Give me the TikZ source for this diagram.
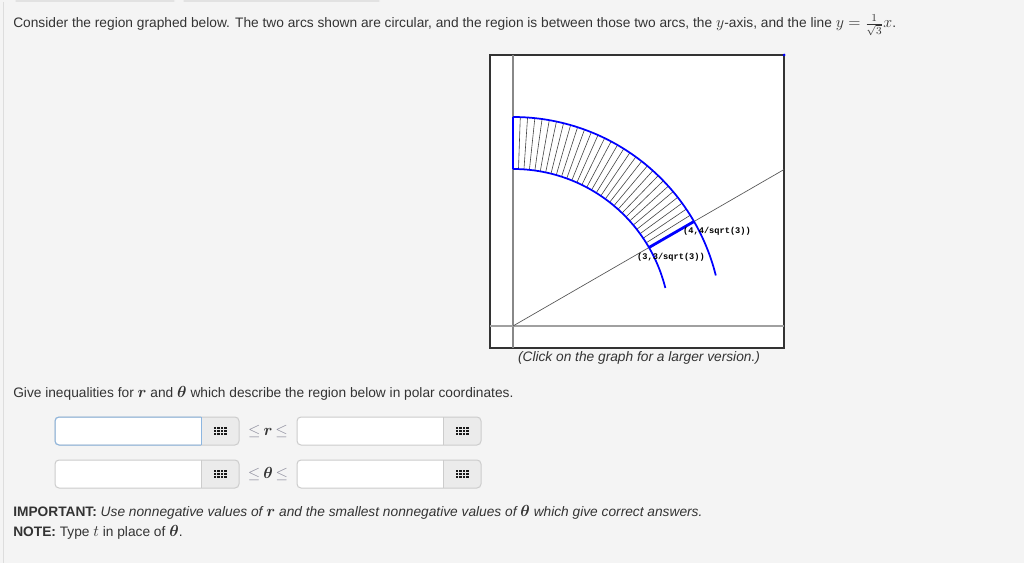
\documentclass[tikz,border=0pt]{standalone}
\usepackage{amsmath}
\usepackage{fontspec}
\setmainfont{Liberation Sans}
\newfontfamily\monof{Liberation Mono}
\newcommand\mth[1]{{\fontsize{11.8}{12}\selectfont$#1$}}
\definecolor{bg}{HTML}{F4F4F4}
\definecolor{txtc}{HTML}{333333}
\definecolor{tabc}{HTML}{E2E2E2}
\definecolor{edgec}{HTML}{DDDDDD}
\definecolor{gboxc}{HTML}{333333}
\definecolor{axisc}{HTML}{888888}
\definecolor{xaxisc}{HTML}{A0A0A0}
\definecolor{linec}{HTML}{555555}
\definecolor{hatchc}{HTML}{444444}
\definecolor{arcblue}{HTML}{0000FF}
\definecolor{boxc}{HTML}{CCCCCC}
\definecolor{btnc}{HTML}{EBEBEB}
\definecolor{focusc}{HTML}{8DB6E0}
\definecolor{iconc}{HTML}{1A1A1A}
\definecolor{lec}{HTML}{8A8A9A}
\tikzset{
  txt/.style={inner sep=0pt, text=txtc, font=\fontsize{10.3}{12}\selectfont},
  gbox/.style={draw=gboxc, line width=0.8pt},
  yaxis/.style={draw=axisc, line width=0.8pt},
  xaxis/.style={draw=xaxisc, line width=1.4pt},
  sline/.style={draw=linec, line width=0.5pt},
  hatch/.style={draw=hatchc, line width=0.45pt},
  bluearc/.style={draw=arcblue, line width=1.3pt},
  blueedge/.style={draw=arcblue, line width=2.1pt},
  ptlabel/.style={inner sep=0pt, text=black, font=\monof\bfseries\fontsize{6.5}{7}\selectfont},
  boxline/.style={draw=boxc, line width=0.75pt},
  focusline/.style={draw=focusc, line width=0.75pt},
  icon/.style={fill=iconc},
  ineq/.style={inner sep=0pt, text=txtc, font=\fontsize{13}{14}\selectfont},
}
\begin{document}
\begin{tikzpicture}[x=0.75pt,y=-0.75pt]
\useasboundingbox (0,0) rectangle (1024,563);
\fill[bg] (0,0) rectangle (1024,563);
% top tabs and left edge
\fill[tabc, rounded corners=1] (15,0) rectangle (175,2);
\fill[tabc, rounded corners=1] (183,0) rectangle (380,2);
\draw[edgec, line width=0.8pt] (3.5,2) -- (3.5,563);

% question text
\node[txt, anchor=base west] (question) at (13,28) {Consider the region graphed below. The two arcs shown are circular, and the region is between those two arcs, the \mth{y}-axis, and the line \mth{y=\frac{1}{\sqrt{3}}x}.};

% graph
\draw[gbox, fill=white] (490,55) rectangle (784,348);
\begin{scope}[shift={(513,326)}, yscale=-1]
  \draw[yaxis] (0,271) -- (0,-22);
  \draw[xaxis] (-23,0) -- (271,0);
  \draw[sline] (0,0) -- (271,156.46);
  \foreach \a in {32,34,...,88} \draw[hatch] (\a:157) -- (\a:209);
  \draw[bluearc] (14:157) arc[start angle=14, end angle=90, radius=157];
  \draw[bluearc] (14:209) arc[start angle=14, end angle=90, radius=209];
  \draw[blueedge] (90:157) -- (90:209);
  \draw[blueedge] (30:157) -- (30:209);
  \fill[arcblue] (271,271) circle[radius=1.5];
\end{scope}
\node[ptlabel] (lab4) at (717,231) {(4,4/sqrt(3))};
\node[ptlabel] (lab3) at (671,257) {(3,3/sqrt(3))};
\node[txt, font=\itshape\fontsize{10.3}{12}\selectfont] (caption) at (639,358) {(Click on the graph for a larger version.)};

% instruction
\node[txt, anchor=base west] (give) at (13,397) {Give inequalities for \mth{\boldsymbol{r}} and \mth{\boldsymbol{\theta}} which describe the region below in polar coordinates.};

% answer boxes
\foreach \bx/\by in {55/417,297/417,55/460,297/460}{
  \begin{scope}
    \clip[rounded corners=3] (\bx,\by) rectangle ++(184,28);
    \fill[white] (\bx,\by) rectangle ++(184,28);
    \fill[btnc] (\bx+146,\by) rectangle ++(38,28);
  \end{scope}
  \draw[boxline, rounded corners=3] (\bx,\by) rectangle ++(184,28);
  \draw[boxline] (\bx+146,\by) -- ++(0,28);
  \foreach \i in {0,...,3}
    \foreach \j in {0,1,2}
      \fill[icon] (\bx+158.5+\i*3.5, \by+10+\j*2.8) rectangle ++(2.9,2.4);
}
\draw[focusline, rounded corners=3] (201,417) -- (55,417) -- (55,445) -- (201,445);
\draw[focusline] (201,417) -- (201,445);

\node[ineq] (ineqr) at (268,431) {{\color{lec}$\le$}\,$\boldsymbol{r}$\,{\color{lec}$\le$}};
\node[ineq] (ineqt) at (268,474) {{\color{lec}$\le$}\,$\boldsymbol{\theta}$\,{\color{lec}$\le$}};

% notes
\node[txt, anchor=base west] (important) at (13,516) {\textbf{IMPORTANT:} \textit{Use nonnegative values of \mth{\boldsymbol{r}} and the smallest nonnegative values of \mth{\boldsymbol{\theta}} which give correct answers.}};
\node[txt, anchor=base west] (note) at (13,536) {\textbf{NOTE:} Type \mth{t} in place of \mth{\boldsymbol{\theta}}.};
\end{tikzpicture}
\end{document}
